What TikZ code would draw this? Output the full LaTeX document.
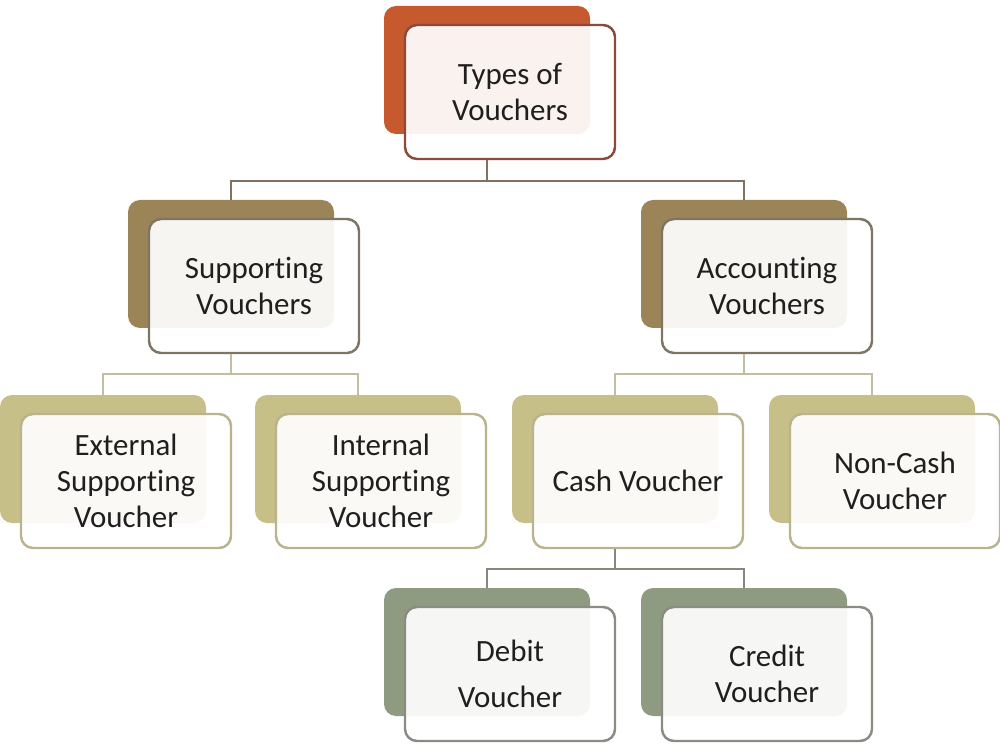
\documentclass[tikz,border=0pt]{standalone}
\usepackage{fontspec}
\setmainfont{Carlito}[Ligatures={NoCommon}]
\usepackage{xcolor}
\usepackage{tikz}
\usetikzlibrary{positioning}

\definecolor{rustback}{HTML}{C65A2E}
\definecolor{rustline}{HTML}{8B4A3A}
\definecolor{earthback}{HTML}{9B8458}
\definecolor{earthline}{HTML}{7F7565}
\definecolor{khakiback}{HTML}{C7BF88}
\definecolor{khakiline}{HTML}{B9B38E}
\definecolor{sageback}{HTML}{8F9B80}
\definecolor{sageline}{HTML}{8A8C84}

\begin{document}
\begin{tikzpicture}[font=\fontsize{17.6}{20.4}\selectfont]
    % Define the style for the nodes
    \tikzstyle{back} = [rounded corners=0.24cm, minimum width=4.12cm, minimum height=2.56cm, inner sep=0pt]
    \tikzstyle{front} = [rounded corners=0.24cm, line width=1.4pt, fill=white, fill opacity=0.92, text opacity=1, text=black!88, minimum width=4.2cm, minimum height=2.68cm, align=center, inner sep=0pt]
    \tikzstyle{bus} = [draw, line width=1.2pt]

    \useasboundingbox (0,0) rectangle (20,15);

    % Place the nodes
    \node [back, fill=rustback] (topb) at (9.74,13.6) {};
    \node [front, draw=rustline] (topf) at ([shift={(0.46,-0.44)}]topb) {Types of\\Vouchers};

    \node [back, fill=earthback] (supb) at (4.62,9.72) {};
    \node [front, draw=earthline] (supf) at ([shift={(0.46,-0.44)}]supb) {Supporting\\Vouchers};
    \node [back, fill=earthback] (accb) at (14.88,9.72) {};
    \node [front, draw=earthline] (accf) at ([shift={(0.46,-0.44)}]accb) {Accounting\\Vouchers};

    \node [back, fill=khakiback] (extb) at (2.06,5.82) {};
    \node [front, draw=khakiline] (extf) at ([shift={(0.46,-0.44)}]extb) {External\\Supporting\\Voucher};
    \node [back, fill=khakiback] (intb) at (7.16,5.82) {};
    \node [front, draw=khakiline] (intf) at ([shift={(0.46,-0.44)}]intb) {Internal\\Supporting\\Voucher};
    \node [back, fill=khakiback] (cashb) at (12.30,5.82) {};
    \node [front, draw=khakiline] (cashf) at ([shift={(0.46,-0.44)}]cashb) {Cash Voucher};
    \node [back, fill=khakiback] (nonb) at (17.44,5.82) {};
    \node [front, draw=khakiline] (nonf) at ([shift={(0.46,-0.44)}]nonb) {Non-Cash\\Voucher};

    \node [back, fill=sageback] (debb) at (9.74,1.96) {};
    \node [front, draw=sageline] (debf) at ([shift={(0.46,-0.44)}]debb) {Debit\\[6pt]Voucher};
    \node [back, fill=sageback] (creb) at (14.88,1.96) {};
    \node [front, draw=sageline] (cref) at ([shift={(0.46,-0.44)}]creb) {Credit\\Voucher};

    % Connect the nodes with paths
    \path [bus, color=earthline!90!rustline] (topf.south -| topb) -- ++(0,-0.42) -| (supb.north);
    \path [bus, color=earthline!90!rustline] (topf.south -| topb) -- ++(0,-0.42) -| (accb.north);

    \path [bus, color=khakiline!85!white] (supf.south -| supb) -- ++(0,-0.4) -| (extb.north);
    \path [bus, color=khakiline!85!white] (supf.south -| supb) -- ++(0,-0.4) -| (intb.north);
    \path [bus, color=khakiline!85!white] (accf.south -| accb) -- ++(0,-0.4) -| (cashb.north);
    \path [bus, color=khakiline!85!white] (accf.south -| accb) -- ++(0,-0.4) -| (nonb.north);

    \path [bus, color=sageline!80!earthline] (cashf.south -| cashb) -- ++(0,-0.4) -| (debb.north);
    \path [bus, color=sageline!80!earthline] (cashf.south -| cashb) -- ++(0,-0.4) -| (creb.north);

\end{tikzpicture}
\end{document}
